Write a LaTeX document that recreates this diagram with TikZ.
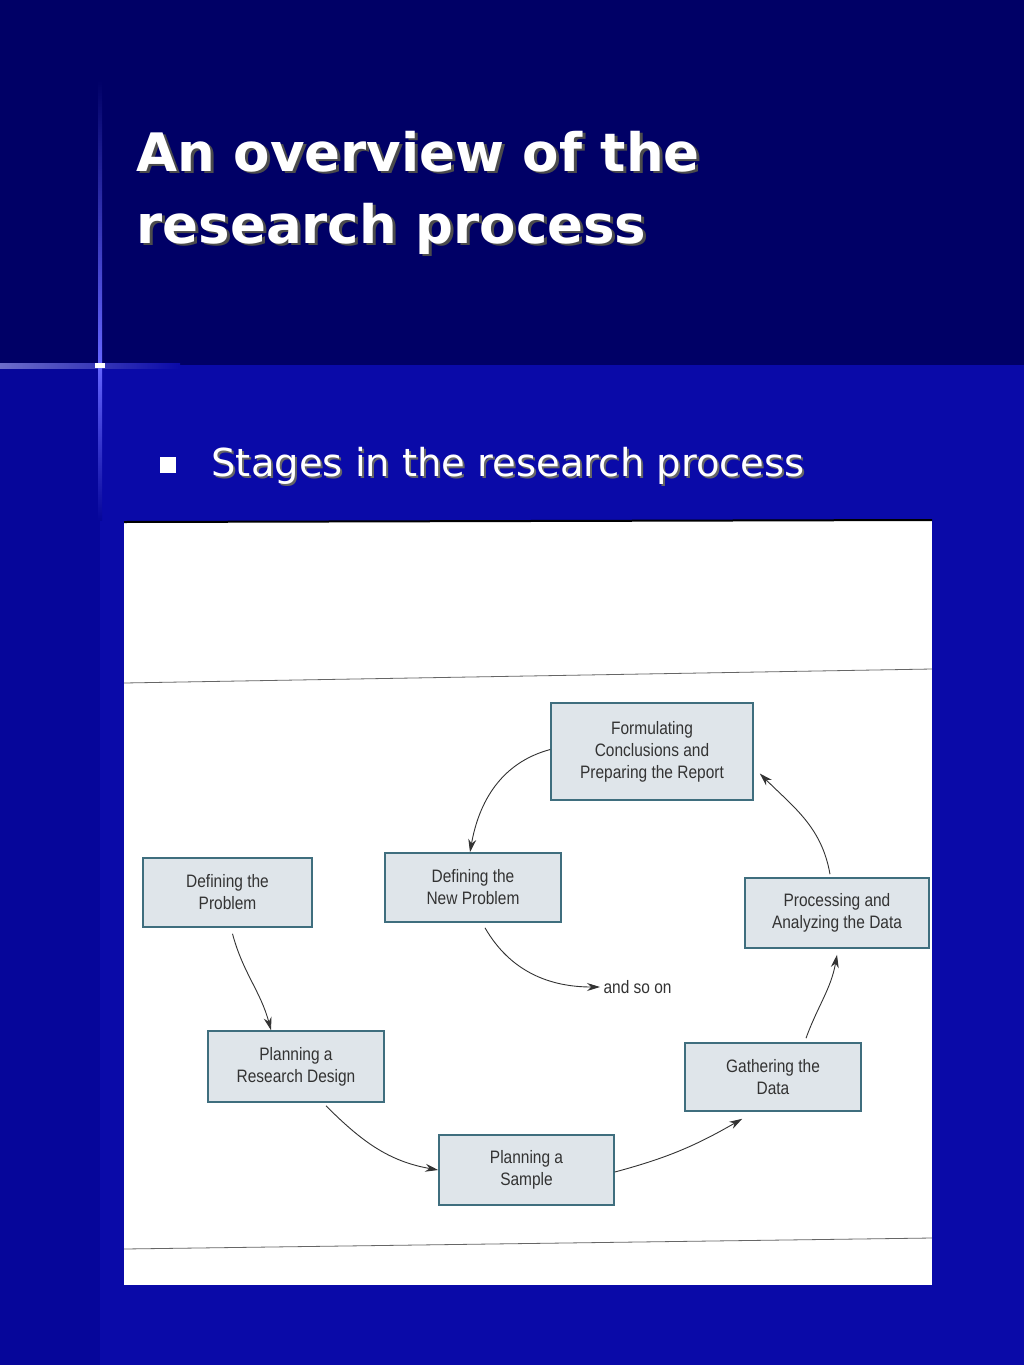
\documentclass[tikz,border=0pt]{standalone}
\usepackage{fontspec}
\setmainfont{DejaVu Sans}
\newfontfamily\boxfont[FakeStretch=0.86]{Liberation Sans}
\usetikzlibrary{arrows.meta}
\definecolor{navy}{HTML}{000066}
\definecolor{blueb}{HTML}{0A0AA8}
\definecolor{bluel}{HTML}{06069A}
\definecolor{boxfill}{HTML}{DFE5EA}
\definecolor{boxline}{HTML}{3F6E7E}
\definecolor{arr}{HTML}{333333}
\tikzset{
 stage/.style={draw=boxline,line width=1.6pt,fill=boxfill,inner sep=0pt,font=\boxfont\fontsize{18}{22}\selectfont,text=black!80,align=center},
 conn/.style={arr,line width=0.9pt,-{Stealth[length=13pt,width=8pt]}},
 ttl/.style={anchor=base west,font=\bfseries\fontsize{53}{64}\selectfont}
}
\begin{document}
\begin{tikzpicture}[x=1pt,y=-1pt]
\useasboundingbox (0,0) rectangle (1024,1365);
\fill[blueb] (0,0) rectangle (1024,1365);
\fill[bluel] (0,365) rectangle (100,1365);
\fill[navy] (0,0) rectangle (1024,365);
\shade[left color=blueb!60!white,right color=blueb] (0,363) rectangle (180,368);
\shade[top color=navy,bottom color=blue!60!white] (98,80) rectangle (102,365);
\shade[top color=blue!60!white,bottom color=bluel] (98,365) rectangle (102,520);
\fill[white] (95,363) rectangle (105,368);
\node[ttl,text=black!70] at (136,173) {An overview of the};
\node[ttl,text=black!70] at (136,245) {research process};
\node[ttl,text=white] (t1) at (133,171) {An overview of the};
\node[ttl,text=white] (t2) at (133,243) {research process};
\fill[white] (160,457) rectangle (176,473);
\node[anchor=base west,text=black!60,font=\fontsize{38.5}{46}\selectfont] at (210,478) {Stages in the research process};
\node[anchor=base west,text=white,font=\fontsize{38.5}{46}\selectfont] (b1) at (208,476) {Stages in the research process};
% panel
\fill[white] (124,521) rectangle (932,1285);
\draw[black,line width=2pt] (124,522) -- (932,520);
\draw[black!60,line width=0.8pt] (124,683) -- (932,669);
\draw[black!60,line width=0.8pt] (124,1249) -- (932,1238);
% boxes
\node[stage,minimum width=202pt,minimum height=97pt] (form) at (652,751.5) {Formulating\\Conclusions and\\Preparing the Report};
\node[stage,minimum width=176pt,minimum height=69pt] (newp) at (473,887.5) {Defining the\\New Problem};
\node[stage,minimum width=169pt,minimum height=69pt] (defp) at (227.5,892.5) {Defining the\\Problem};
\node[stage,minimum width=184pt,minimum height=70pt] (proc) at (837,913) {Processing and\\Analyzing the Data};
\node[stage,minimum width=176pt,minimum height=71pt] (des) at (296,1066.5) {Planning a\\Research Design};
\node[stage,minimum width=176pt,minimum height=68pt] (gath) at (773,1077) {Gathering the\\Data};
\node[stage,minimum width=175pt,minimum height=70pt] (samp) at (526.5,1170) {Planning a\\Sample};
\node[anchor=west,font=\boxfont\fontsize{18}{22}\selectfont,text=black!80] (soon) at (600,987) {and so on};
% connectors
\draw[conn] ([yshift=2pt]form.west) to[out=195,in=80] ([xshift=-3pt]newp.north);
\draw[conn] ([xshift=5pt,yshift=-6pt]defp.south) to[out=-75,in=105] ([xshift=-25pt]des.north);
\draw[conn] ([xshift=30pt,yshift=-3pt]des.south) to[out=-45,in=170] (samp.west);
\draw[conn] ([yshift=-2pt]samp.east) to[out=15,in=-150] ([xshift=58pt,yshift=-7pt]gath.south west);
\draw[conn] ([xshift=33pt,yshift=4pt]gath.north) to[out=70,in=-100] ([yshift=-6pt]proc.south);
\draw[conn] ([xshift=-7pt,yshift=3pt]proc.north) to[out=100,in=-45] ([xshift=6pt,yshift=-22pt]form.east);
\draw[conn] ([xshift=12pt,yshift=-5pt]newp.south) to[out=-60,in=180] (soon.west);
\end{tikzpicture}
\end{document}
